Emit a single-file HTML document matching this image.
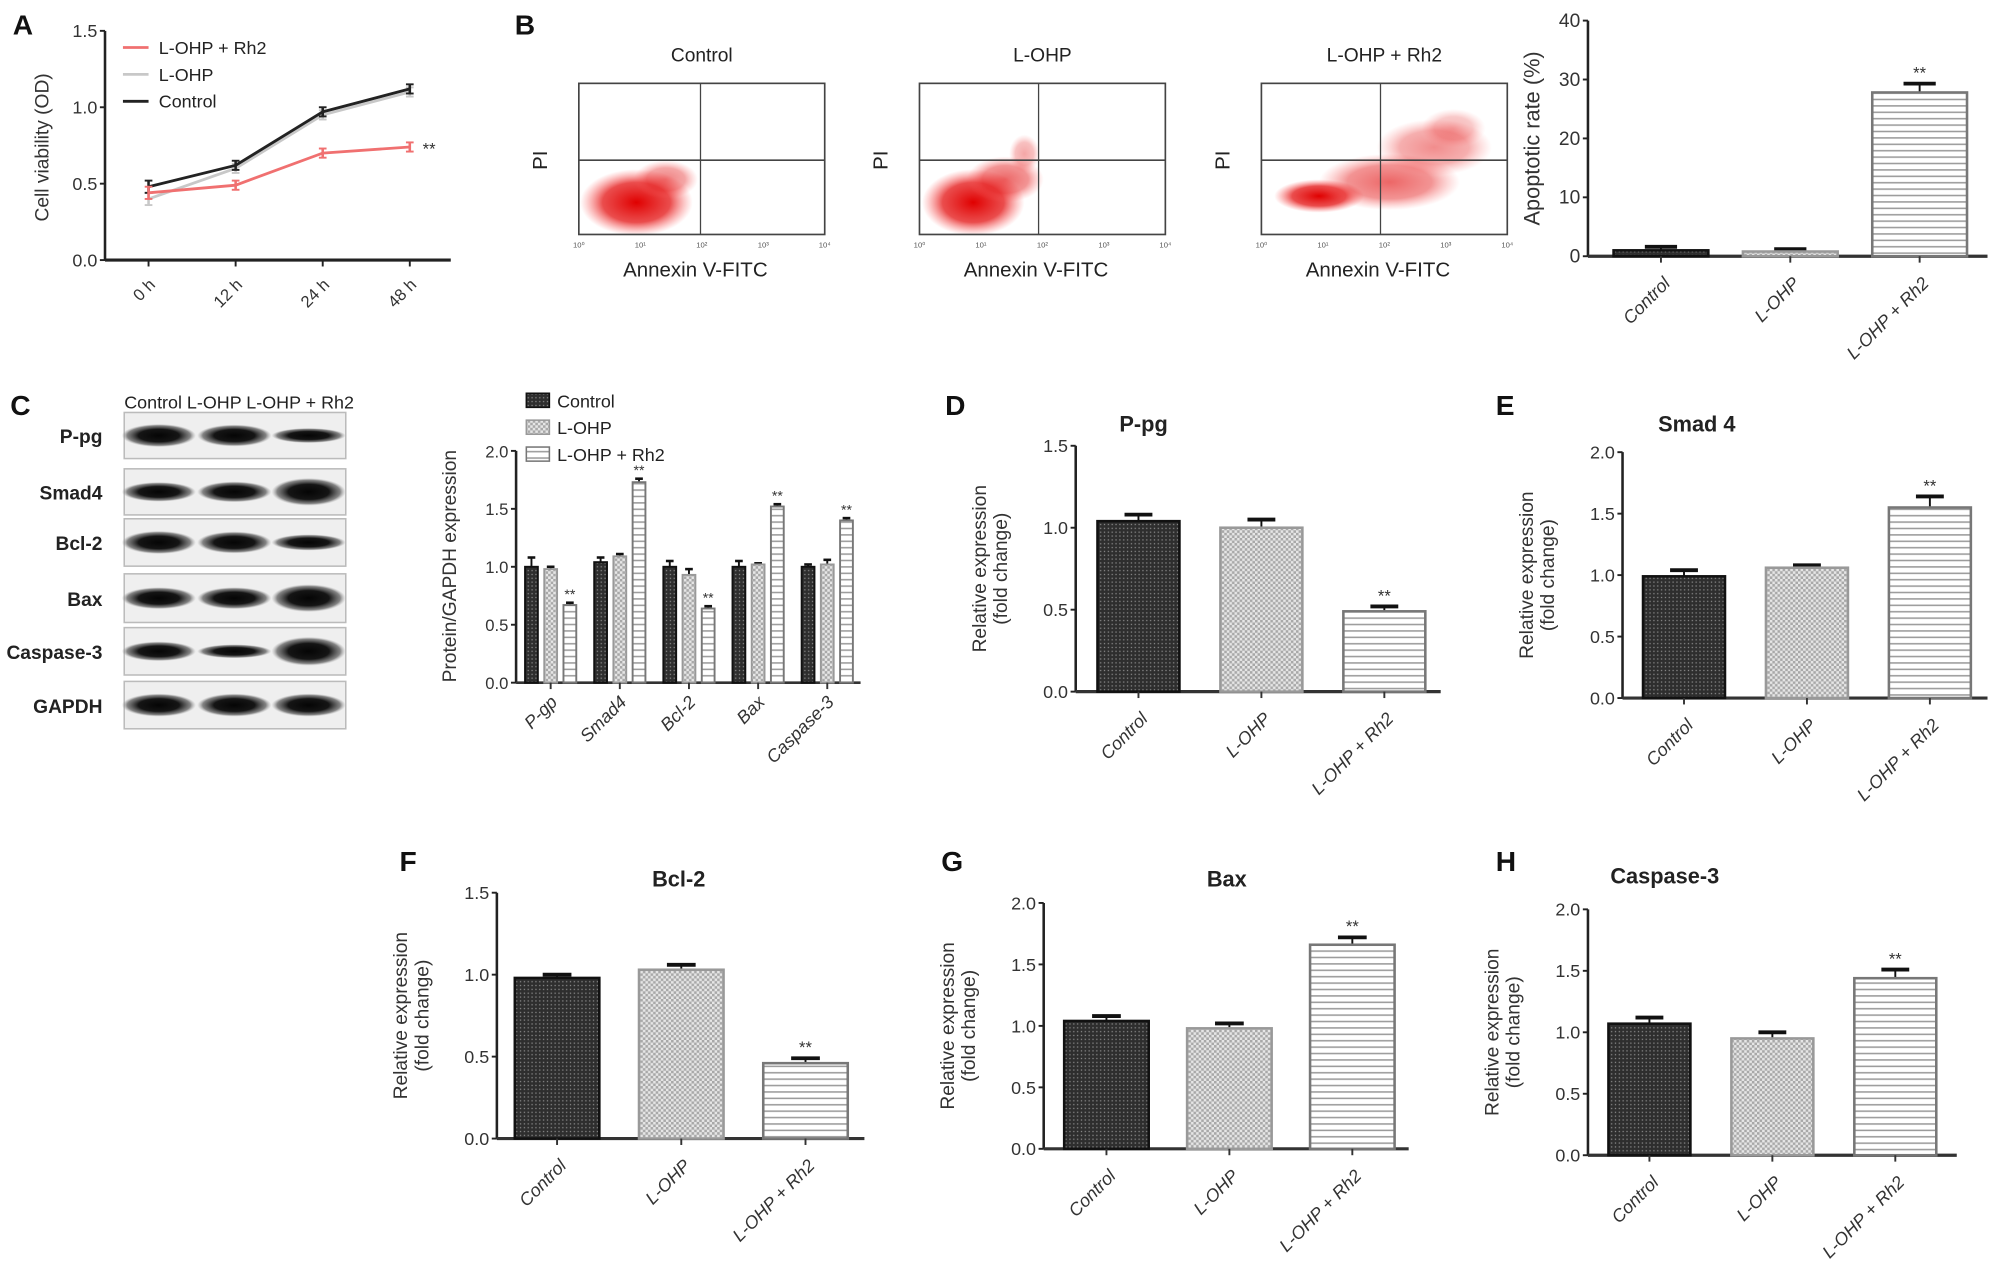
<!DOCTYPE html>
<html><head><meta charset="utf-8">
<style>
html,body{margin:0;padding:0;background:#fff;}
svg{display:block;font-family:"Liberation Sans",Arial,sans-serif;}
</style></head>
<body>
<svg id="fig" width="2008" height="1277" viewBox="0 0 1568 997" xmlns="http://www.w3.org/2000/svg">
<defs>
<pattern id="pCtrl" width="3" height="3" patternUnits="userSpaceOnUse"><rect width="3" height="3" fill="#2e2e2e"/><rect x="1" y="1" width="1" height="1" fill="#8a8a8a"/></pattern>
<pattern id="pLohp" width="4" height="4" patternUnits="userSpaceOnUse"><rect width="4" height="4" fill="#e6e6e6"/><rect x="0" y="0" width="2" height="2" fill="#a8a8a8"/><rect x="2" y="2" width="2" height="2" fill="#a8a8a8"/></pattern>
<pattern id="pRh2" width="4" height="5" patternUnits="userSpaceOnUse"><rect width="4" height="5" fill="#fff"/><rect y="2" width="4" height="1.2" fill="#9a9a9a"/></pattern>
<radialGradient id="bandGrad"><stop offset="0" stop-color="#050505"/><stop offset="0.55" stop-color="#151515"/><stop offset="0.85" stop-color="#555" stop-opacity="0.7"/><stop offset="1" stop-color="#999" stop-opacity="0"/></radialGradient>
<radialGradient id="redBlob"><stop offset="0" stop-color="#e00000" stop-opacity="1"/><stop offset="0.6" stop-color="#e52020" stop-opacity="0.8"/><stop offset="1" stop-color="#ff6060" stop-opacity="0"/></radialGradient>
</defs>
<g id="root"></g>
</svg>
<script>
// ---------- data ----------
const timeLabels = ["0 h","12 h","24 h","48 h"];
const ctrlViab = [0.48, 0.62, 0.97, 1.12];
const lohpViab = [0.40, 0.60, 0.95, 1.10];
const rh2Viab = [0.44, 0.49, 0.70, 0.74];
const viabErr = [0.04, 0.03, 0.03, 0.03];
const viabTicks = [0, 0.5, 1.0, 1.5];

const groups = ["Control","L-OHP","L-OHP + Rh2"];
const apopValues = [1.0, 0.8, 27.8];
const apopErr = [0.6, 0.4, 1.5];
const apopTicks = [0, 10, 20, 30, 40];

const proteins = ["P-gp","Smad4","Bcl-2","Bax","Caspase-3"];
const cCtrl = [1.0, 1.04, 1.0, 1.0, 1.0];
const cLohp = [0.98, 1.09, 0.93, 1.02, 1.02];
const cRh2 = [0.67, 1.73, 0.64, 1.52, 1.40];
const cTicks = [0, 0.5, 1.0, 1.5, 2.0];

const ppgValues = [1.04, 1.00, 0.49];
const smadValues = [0.99, 1.06, 1.55];
const bclValues = [0.98, 1.03, 0.46];
const baxValues = [1.04, 0.98, 1.66];
const caspValues = [1.07, 0.95, 1.44];
const ppgErr = [0.04, 0.05, 0.03];
const smadErr = [0.05, 0.02, 0.09];
const bclErr = [0.02, 0.03, 0.03];
const baxErr = [0.04, 0.04, 0.06];
const caspErr = [0.05, 0.05, 0.07];
const ticks15 = [0, 0.5, 1.0, 1.5];
const ticks20 = [0, 0.5, 1.0, 1.5, 2.0];

// ---------- helpers ----------
const NS = "http://www.w3.org/2000/svg";
const root = document.getElementById("root");
function el(tag, attrs, parent, txt){
  const e = document.createElementNS(NS, tag);
  for (const k in attrs) e.setAttribute(k, attrs[k]);
  if (txt !== undefined) e.textContent = txt;
  (parent || root).appendChild(e);
  return e;
}
function fmt(v, d){ return v.toFixed(d); }
function panelLabel(t, x, y){
  const e = el("text",{x:x,y:y,"font-size":22,"font-weight":"bold",fill:"#111"},root,t);
  
  
}
const fills = ["url(#pCtrl)","url(#pLohp)","url(#pRh2)"];
const strokes = ["#111","#999","#777"];

function yAxis(g, x0, yTop, yBot, max, ticks, dec, fs){
  const sy = v => yBot - v / max * (yBot - yTop);
  const ax = el("line",{x1:x0,y1:yTop,x2:x0,y2:yBot,stroke:"#222","stroke-width":2},g);
  
  
  ticks.forEach(t => {
    el("line",{x1:x0-4,y1:sy(t),x2:x0,y2:sy(t),stroke:"#222","stroke-width":1.5},g);
    const tl = el("text",{x:x0-6,y:sy(t)+5,"font-size":fs||14,"text-anchor":"end",fill:"#333"},g,fmt(t,dec));
    
    
  });
  return sy;
}
function rotLabel(g, x, y, t, fs, italic){
  const e = el("text",{x:x,y:y,"font-size":fs,"text-anchor":"end",fill:"#333",transform:`rotate(-45 ${x} ${y})`,"font-style":italic?"italic":"normal"},g,t);
  
  
}
function yTitle(g, x, y, lines, fs){
  const t = el("text",{x:x,y:y,"font-size":fs,"text-anchor":"middle",fill:"#333",transform:`rotate(-90 ${x} ${y})`},g);
  
  
  lines.forEach((l,i) => el("tspan",{x:x,dy:i===0?0:fs*1.1},t,l));
}

// ---------- Panel A ----------
(function(){
  const g = el("g",{});  
  panelLabel("A", 10, 27);
  const x0 = 82, yTop = 24, yBot = 203, xEnd = 352;
  const sy = yAxis(g, x0, yTop, yBot, 1.5, viabTicks, 1, 14);
  const xa = el("line",{x1:x0,y1:yBot,x2:xEnd,y2:yBot,stroke:"#222","stroke-width":2.5},g);
   
  const sx = i => 116 + i * 68;
  timeLabels.forEach((t,i) => {
    el("line",{x1:sx(i),y1:yBot,x2:sx(i),y2:yBot+5,stroke:"#222","stroke-width":1.5},g);
    rotLabel(g, sx(i)+6, yBot+20, t, 13, false);
  });
  yTitle(g, 38, 115, ["Cell viability (OD)"], 15);
  const series = [[lohpViab,"#c8c8c8","l-ohp"],[ctrlViab,"#222","control"],[rh2Viab,"#f07070","l-ohp-rh2"]];
  series.forEach(([vals,col,nm]) => {
    const line = el("polyline",{points:vals.map((v,i)=>`${sx(i)},${sy(v)}`).join(" "),fill:"none",stroke:col,"stroke-width":2.2},g);
     
    vals.forEach((v,i) => {
      el("line",{x1:sx(i),y1:sy(v+viabErr[i]),x2:sx(i),y2:sy(v-viabErr[i]),stroke:col,"stroke-width":2},g);
      el("line",{x1:sx(i)-3,y1:sy(v+viabErr[i]),x2:sx(i)+3,y2:sy(v+viabErr[i]),stroke:col,"stroke-width":1.5},g);
      el("line",{x1:sx(i)-3,y1:sy(v-viabErr[i]),x2:sx(i)+3,y2:sy(v-viabErr[i]),stroke:col,"stroke-width":1.5},g);
    });
  });
  const st = el("text",{x:sx(3)+10,y:sy(rh2Viab[3])+6,"font-size":13,fill:"#333"},g,"**");
   
  const leg = [["L-OHP + Rh2","#f07070"],["L-OHP","#c8c8c8"],["Control","#222"]];
  leg.forEach(([t,c],i) => {
    const y = 37 + i*21;
    el("line",{x1:96,y1:y,x2:116,y2:y,stroke:c,"stroke-width":2.2},g);
    const lt = el("text",{x:124,y:y+5,"font-size":14,fill:"#222"},g,t);
     
  });
})();

// ---------- Panel B flow plots ----------
panelLabel("B", 402, 27);
(function(){
  const plots = [
    {x:452, title:"Control", qx:547, blobs:[[497,158,44,26,1],[520,140,25,15,0.5]]},
    {x:718, title:"L-OHP", qx:811, blobs:[[760,158,40,26,1],[785,140,30,18,0.6],[800,120,12,15,0.35]]},
    {x:985, title:"L-OHP + Rh2", qx:1078, blobs:[[1030,153,35,13,1],[1085,142,55,22,0.6],[1120,115,45,22,0.45],[1135,100,25,15,0.3]]}
  ];
  plots.forEach((p,k) => {
    const g = el("g",{});  
    const w = 192, yT = 65, yB = 183;
    const tt = el("text",{x:p.x+w/2,y:48,"font-size":15,"text-anchor":"middle",fill:"#222"},g,p.title);
     
    p.blobs.forEach(b => el("ellipse",{cx:b[0],cy:b[1],rx:b[2],ry:b[3],fill:"url(#redBlob)",opacity:b[4]},g));
    el("rect",{x:p.x,y:yT,width:w,height:yB-yT,fill:"none",stroke:"#444","stroke-width":1.3},g);
    el("line",{x1:p.qx,y1:yT,x2:p.qx,y2:yB,stroke:"#444","stroke-width":1},g);
    el("line",{x1:p.x,y1:125,x2:p.x+w,y2:125,stroke:"#444","stroke-width":1.3},g);
    for (let i=0;i<=4;i++){ el("text",{x:p.x+i*w/4,y:yB+10,"font-size":6,"text-anchor":"middle",fill:"#555"},g,"10"+["⁰","¹","²","³","⁴"][i]); }
    const pi = el("text",{x:p.x-30,y:130,"font-size":16,"text-anchor":"middle",fill:"#222",transform:`rotate(-90 ${p.x-30} 125)`},g,"PI");
     
    const xt = el("text",{x:p.x+w/2-5,y:216,"font-size":16,"text-anchor":"middle",fill:"#222"},g,"Annexin V-FITC");
     
  });
})();

// ---------- Generic 3-bar chart ----------
function barChart(o){
  const g = el("g",{});  
  const sy = yAxis(g, o.x0, o.yTop, o.yBot, o.max, o.ticks, o.dec, o.fs||14);
  const xa = el("line",{x1:o.x0,y1:o.yBot,x2:o.xEnd,y2:o.yBot,stroke:"#333","stroke-width":2.5},g);
   
  const sx = i => o.c0 + i * o.step;
  o.values.forEach((v,i) => {
    const x = sx(i) - o.bw/2, top = sy(v), eTop = sy(v + o.errs[i]);
    el("line",{x1:sx(i),y1:eTop,x2:sx(i),y2:top,stroke:"#111","stroke-width":1.5},g);
    el("line",{x1:sx(i)-o.bw*0.17,y1:eTop,x2:sx(i)+o.bw*0.17,y2:eTop,stroke:"#111","stroke-width":3},g);
    const r = el("rect",{x:x,y:top,width:o.bw,height:o.yBot-top,fill:fills[i],stroke:strokes[i],"stroke-width":2},g);
    
    
    el("line",{x1:sx(i),y1:o.yBot,x2:sx(i),y2:o.yBot+5,stroke:"#333","stroke-width":1.5},g);
    rotLabel(g, sx(i)+8, o.yBot+22, groups[i], 14, true);
  });
  const si = o.values.length-1;
  const st = el("text",{x:sx(si),y:sy(o.values[si]+o.errs[si])-4,"font-size":13,"text-anchor":"middle",fill:"#333"},g,"**");
   
  if (o.title){
    const t = el("text",{x:o.tx,y:o.ty,"font-size":17,"font-weight":"bold","text-anchor":"middle",fill:"#222"},g,o.title);
     
  }
  yTitle(g, o.x0-(o.titleOff||70), (o.yTop+o.yBot)/2, o.ytitle, o.tfs||15);
}

barChart({name:"apoptotic-rate-chart",x0:1240,yTop:16,yBot:200,xEnd:1552,max:40,ticks:apopTicks,dec:0,c0:1297,step:101,bw:74,values:apopValues,errs:apopErr,ytitle:["Apoptotic rate (%)"],fs:15,titleOff:38,tfs:17});

// ---------- Panel C blots ----------
panelLabel("C", 8, 324);
(function(){
  const g = el("g",{});  
  const hdr = el("text",{x:97,y:319,"font-size":14,fill:"#222"},g,"Control  L-OHP  L-OHP + Rh2");
   
  const rows = [["P-pg",322,358,[1,0.95,0.65]],["Smad4",366,402,[0.85,0.9,1.2]],["Bcl-2",405,442,[1,0.95,0.7]],["Bax",448,486,[0.95,0.95,1.2]],["Caspase-3",490,527,[0.85,0.6,1.25]],["GAPDH",532,569,[1,1,1]]];
  rows.forEach(([n,y1,y2,inten]) => {
    el("rect",{x:97,y:y1,width:173,height:y2-y1,fill:"#efefef",stroke:"#bbb","stroke-width":1.2},g);
    const cy = (y1+y2)/2;
    [124,183,241].forEach((cx,i) => {
      const b = el("ellipse",{cx:cx,cy:cy,rx:29,ry:9*inten[i],fill:"url(#bandGrad)"},g);
      
      
    });
    const lt = el("text",{x:80,y:cy+6,"font-size":15,"font-weight":"bold","text-anchor":"end",fill:"#222"},g,n);
     
  });
})();

// ---------- Panel C grouped bars ----------
(function(){
  const g = el("g",{});  
  const x0 = 403, yTop = 352, yBot = 533;
  const sy = yAxis(g, x0, yTop, yBot, 2.0, cTicks, 1, 13);
  const xa = el("line",{x1:x0,y1:yBot,x2:672,y2:yBot,stroke:"#333","stroke-width":2},g);
   
  const series = [cCtrl, cLohp, cRh2];
  const errs = [[0.08,0.02,0.02],[0.04,0.02,0.03],[0.05,0.05,0.02],[0.05,0.01,0.02],[0.02,0.04,0.02]];
  proteins.forEach((p,j) => {
    const gx = 410 + j*54;
    series.forEach((s,i) => {
      const x = gx + i*15, v = s[j], top = sy(v), e = sy(v+errs[j][i]);
      el("line",{x1:x+5,y1:e,x2:x+5,y2:top,stroke:"#111","stroke-width":1.5},g);
      el("line",{x1:x+2,y1:e,x2:x+8,y2:e,stroke:"#111","stroke-width":2},g);
      const r = el("rect",{x:x,y:top,width:10,height:yBot-top,fill:fills[i],stroke:strokes[i],"stroke-width":1.5},g);
      
      
      if (i===2){ el("text",{x:x+5,y:e-3,"font-size":11,"text-anchor":"middle",fill:"#333"},g,"**"); }
    });
    el("line",{x1:gx+20,y1:yBot,x2:gx+20,y2:yBot+5,stroke:"#333","stroke-width":1.5},g);
    rotLabel(g, gx+26, yBot+16, p, 14, true);
  });
  yTitle(g, 356, 442, ["Protein/GAPDH expression"], 15);
  groups.forEach((t,i) => {
    const y = 313 + i*21;
    el("rect",{x:411,y:y-6,width:18,height:11,fill:fills[i],stroke:strokes[i],"stroke-width":1.2},g);
    const lt = el("text",{x:435,y:y+5,"font-size":14,fill:"#222"},g,t);
     
  });
})();

// ---------- Panels D-H ----------
panelLabel("D", 738, 324);
barChart({name:"ppg-chart",x0:840,yTop:348,yBot:540,xEnd:1125,max:1.5,ticks:ticks15,dec:1,c0:889,step:96,bw:64,values:ppgValues,errs:ppgErr,title:"P-pg",tx:893,ty:337,ytitle:["Relative expression","(fold change)"]});
panelLabel("E", 1168, 324);
barChart({name:"smad4-chart",x0:1267,yTop:353,yBot:545,xEnd:1552,max:2.0,ticks:ticks20,dec:1,c0:1315,step:96,bw:64,values:smadValues,errs:smadErr,title:"Smad 4",tx:1325,ty:337,ytitle:["Relative expression","(fold change)"]});
panelLabel("F", 312, 680);
barChart({name:"bcl2-chart",x0:388,yTop:697,yBot:889,xEnd:675,max:1.5,ticks:ticks15,dec:1,c0:435,step:97,bw:66,values:bclValues,errs:bclErr,title:"Bcl-2",tx:530,ty:692,ytitle:["Relative expression","(fold change)"]});
panelLabel("G", 735, 680);
barChart({name:"bax-chart",x0:815,yTop:705,yBot:897,xEnd:1100,max:2.0,ticks:ticks20,dec:1,c0:864,step:96,bw:66,values:baxValues,errs:baxErr,title:"Bax",tx:958,ty:692,ytitle:["Relative expression","(fold change)"]});
panelLabel("H", 1168, 680);
barChart({name:"caspase3-chart",x0:1240,yTop:710,yBot:902,xEnd:1528,max:2.0,ticks:ticks20,dec:1,c0:1288,step:96,bw:64,values:caspValues,errs:caspErr,title:"Caspase-3",tx:1300,ty:690,ytitle:["Relative expression","(fold change)"]});
</script>
</body></html>
